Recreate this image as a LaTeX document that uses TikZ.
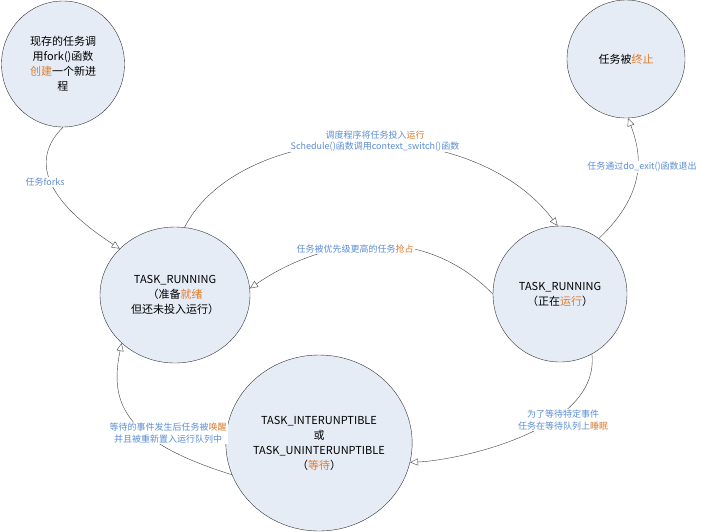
\documentclass[tikz,border=0pt]{standalone}
\usepackage{fontspec}
\setmainfont{Noto Sans CJK SC}
\usetikzlibrary{arrows.meta,shapes.geometric}
\definecolor{nodefill}{HTML}{E6ECF6}
\definecolor{lblue}{HTML}{5B8ED6}
\definecolor{orng}{HTML}{E07B2E}
\tikzset{
 st/.style={ellipse,draw=black!80,fill=nodefill,align=center,font=\fontsize{11}{15}\selectfont,inner sep=0pt},
 lbl/.style={text=lblue,fill=white,align=center,font=\fontsize{9}{11.5}\selectfont,inner sep=1pt},
 edge/.style={draw=black!75,-{Triangle[open,length=8pt,width=7pt]}},
}
\newcommand{\hl}[1]{\textcolor{orng}{#1}}
\begin{document}
\begin{tikzpicture}[x=1pt,y=-1pt]
\useasboundingbox (0,0) rectangle (720,531);
\node[st,minimum width=123pt,minimum height=126pt] (fork) at (63,64) {现存的任务调\\用fork()函数\\\hl{创建}一个新进\\程};
\node[st,minimum width=118pt,minimum height=118pt] (term) at (626,59) {任务被\hl{终止}};
\node[st,minimum width=150pt,minimum height=136pt] (ready) at (175,295) {TASK\_RUNNING\\（准备\hl{就绪}\\但还未投入运行）};
\node[st,minimum width=134pt,minimum height=136pt] (run) at (560,294) {TASK\_RUNNING\\（正在\hl{运行}）};
\node[st,minimum width=148pt,minimum height=176pt] (wait) at (319,443) {TASK\_INTERUNPTIBLE\\或\\TASK\_UNINTERUNPTIBLE\\（\hl{等待}）};
\draw[edge] (fork.south) .. controls (30,160) and (45,200) .. (ready.140);
\draw[edge] (ready.82) .. controls (240,120) and (470,110) .. (run.92);
\draw[edge] (run.180) .. controls (420,220) and (320,240) .. (ready.5);
\draw[edge] (run.55) .. controls (650,190) and (640,150) .. (term.-88);
\draw[edge] (run.-62) .. controls (600,430) and (460,460) .. (wait.-12);
\draw[edge] (wait.-160) .. controls (120,440) and (110,400) .. (ready.-138);
\node[lbl] (l1) at (45,182) {任务forks};
\node[lbl] (l2) at (375,141) {调度程序将任务投入\textcolor{orng}{运行}\\Schedule()函数调用context\_switch()函数};
\node[lbl] (l3) at (355,249) {任务被优先级更高的任务\textcolor{orng}{抢占}};
\node[lbl] (l4) at (642,167) {任务通过do\_exit()函数退出};
\node[lbl] (l5) at (563,420) {为了等待特定事件\\任务在等待队列上\textcolor{orng}{睡眠}};
\node[lbl] (l6) at (168,433) {等待的事件发生后任务被\textcolor{orng}{唤醒}\\并且被重新置入运行队列中};
\end{tikzpicture}
\end{document}
